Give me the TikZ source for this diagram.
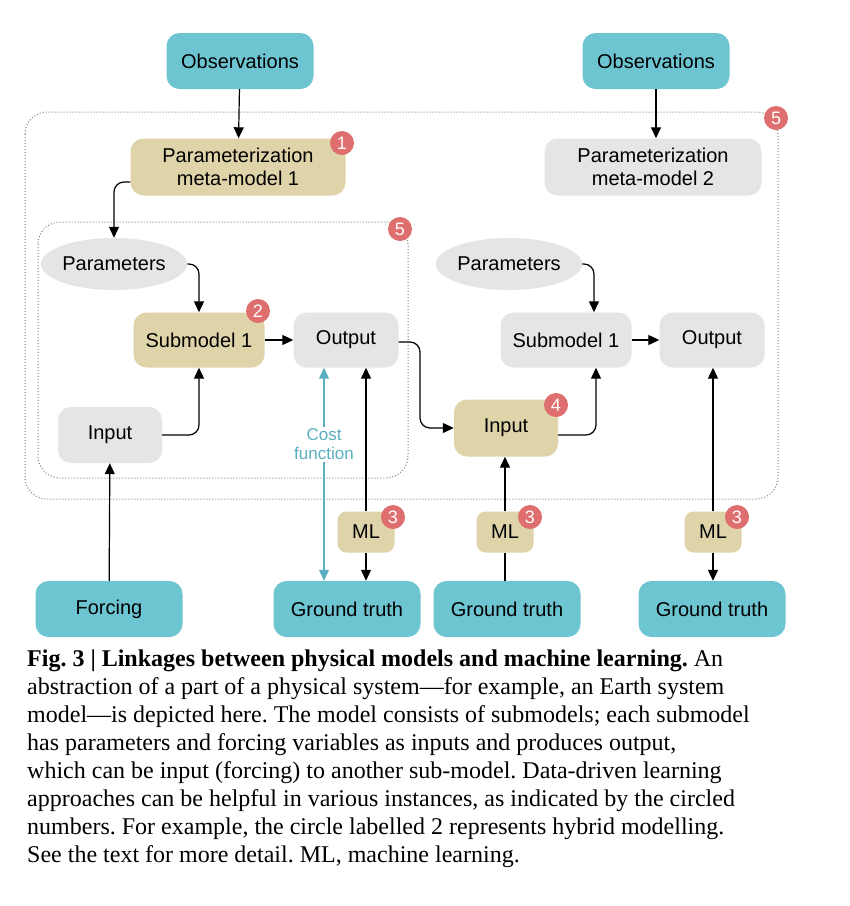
\documentclass[tikz,border=0pt]{standalone}
\usepackage{fontspec}
\setmainfont{Liberation Serif}
\newfontfamily\sansf{Liberation Sans}
\usetikzlibrary{arrows.meta,shapes.geometric}
\definecolor{teal}{HTML}{6EC5D2}
\definecolor{tan}{HTML}{DFD4A9}
\definecolor{lgrey}{HTML}{E5E5E5}
\definecolor{badge}{HTML}{DF6E6E}
\definecolor{cost}{HTML}{5AAFC0}
\begin{document}
\frenchspacing
\begin{tikzpicture}[x=1pt,y=-1pt,
  box/.style={rounded corners=13pt,inner sep=0pt,align=center,font=\sansf\fontsize{20}{23}\selectfont},
  obs/.style={box,fill=teal,minimum width=147pt,minimum height=56pt},
  tanb/.style={box,fill=tan},
  greyb/.style={box,fill=lgrey},
  ell/.style={ellipse,fill=lgrey,inner sep=0pt,minimum width=137pt,minimum height=52pt,font=\sansf\fontsize{20}{23}\selectfont},
  mlb/.style={box,fill=tan,rounded corners=9pt,minimum width=57pt,minimum height=41pt},
  bdg/.style={circle,fill=badge,text=white,inner sep=0pt,minimum size=24pt,font=\sansf\fontsize{18}{18}\selectfont},
  arr/.style={-{Triangle[length=11pt,width=10pt]},line width=1.2pt,rounded corners=10pt},
  ln/.style={line width=1.2pt},
  dotb/.style={dotted,line width=1pt,gray,rounded corners=22pt}]
\useasboundingbox (0,0) rectangle (850,906);
\fill[white] (0,0) rectangle (850,906);
% dotted boxes
\draw[dotb] (25,112) rectangle (778,499);
\draw[dotb] (38,222) rectangle (408,478);
% nodes
\node[obs] (obs1) at (240,61) {Observations};
\node[obs] (obs2) at (656,61) {Observations};
\node[tanb,minimum width=215pt,minimum height=57pt] (pm1) at (238,167) {Parameterization\\meta-model 1};
\node[greyb,minimum width=217pt,minimum height=57pt] (pm2) at (653,167) {Parameterization\\meta-model 2};
\node[ell] (par1) at (114,264) {Parameters};
\node[ell] (par2) at (509,264) {Parameters};
\node[tanb,minimum width=131pt,minimum height=55pt] (sub1) at (199,340) {Submodel 1};
\node[greyb,minimum width=105pt,minimum height=55pt] (out1) at (346,340) {Output};
\node[greyb,minimum width=104pt,minimum height=56pt] (in1) at (110,435) {Input};
\node[greyb,minimum width=131pt,minimum height=55pt] (sub2) at (566,340) {Submodel 1};
\node[greyb,minimum width=105pt,minimum height=55pt] (out2) at (712,340) {Output};
\node[tanb,minimum width=104pt,minimum height=57pt] (in2) at (506,428) {Input};
\node[mlb] (ml1) at (366,532) {ML};
\node[mlb] (ml2) at (505,532) {ML};
\node[mlb] (ml3) at (713,532) {ML};
\node[obs] (forc) at (109,609) {Forcing};
\node[obs] (gt1) at (347,609) {Ground truth};
\node[obs] (gt2) at (507,609) {Ground truth};
\node[obs] (gt3) at (712,609) {Ground truth};
% badges
\node[bdg] (b5a) at (776,118) {5};
\node[bdg] (b5b) at (400,229) {5};
\node[bdg] (b1) at (342,143) {1};
\node[bdg] (b2) at (258,311) {2};
\node[bdg] (b4) at (556,405) {4};
\node[bdg] (b3a) at (393,517) {3};
\node[bdg] (b3b) at (530,517) {3};
\node[bdg] (b3c) at (737,517) {3};
% connectors
\draw[arr] (obs1) -- (pm1);
\draw[arr] (obs2.south -| 656,0) -- (pm2.north -| 656,0);
\draw[arr] (pm1.west |- 0,182) -| (par1.north);
\draw[arr] (par1.east) -| (sub1.north);
\draw[arr] (sub1) -- (out1);
\draw[arr] (in1.east) -| (sub1.south);
\draw[arr] (forc) -- (in1);
\draw[arr] (ml1.north) -- (out1.south -| ml1.north);
\draw[arr] (ml1.south) -- (gt1.north -| ml1.south);
\draw[{Triangle[length=11pt,width=10pt]}-{Triangle[length=11pt,width=10pt]},line width=1.2pt,cost] (out1.south -| 324,0) -- node[pos=0.36,fill=white,inner sep=2pt,align=center,font=\sansf\fontsize{17}{19}\selectfont,text=cost] {Cost\\function} (gt1.north -| 324,0);
\draw[arr] (out1.east |- 0,342) -| (420,380) |- (in2.west);
\draw[ln] (gt2.north -| ml2.south) -- (ml2.south);
\draw[arr] (ml2.north) -- (in2.south -| ml2.north);
\draw[arr] (in2.east |- 0,435) -| (sub2.south -| 596,0);
\draw[arr] (par2.east) -| (sub2.north -| 594,0);
\draw[arr] (sub2) -- (out2);
\draw[arr] (ml3.north) -- (out2.south -| ml3.north);
\draw[arr] (ml3.south) -- (gt3.north -| ml3.south);
% caption
\node[anchor=north west,inner sep=0pt,align=left,font=\fontsize{24}{28}\selectfont] (cap) at (27,650) {%
\textbf{Fig. 3 | Linkages between physical models and machine learning.} An\\
abstraction of a part of a physical system---for example, an Earth system\\
model---is depicted here. The model consists of submodels; each submodel\\
has parameters and forcing variables as inputs and produces output,\\
which can be input (forcing) to another sub-model. Data-driven learning\\
approaches can be helpful in various instances, as indicated by the circled\\
numbers. For example, the circle labelled 2 represents hybrid modelling.\\
See the text for more detail. ML, machine learning.};
\end{tikzpicture}
\end{document}
